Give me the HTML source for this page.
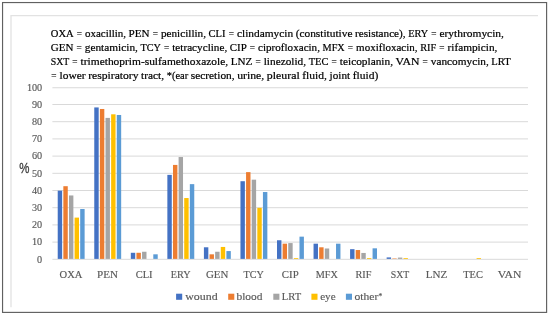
<!DOCTYPE html>
<html lang="en"><head><meta charset="utf-8"><title>Resistance chart</title>
<style>
html,body{margin:0;padding:0;background:#fff;}
body{width:550px;height:315px;overflow:hidden;}
svg{display:block;}
text{font-family:"Liberation Serif","DejaVu Serif",serif;}
.t{font-size:10.4px;fill:#000;stroke:#000;stroke-width:0.2px;}
.a{font-size:10.3px;fill:#595959;stroke:#595959;stroke-width:0.15px;}
</style></head><body>
<svg width="550" height="315" viewBox="0 0 550 315">
<rect x="0" y="0" width="550" height="315" fill="#fff"/>
<path d="M11 307.2V15.6H538" fill="none" stroke="#e2e2e2" stroke-width="1.3"/>
<rect x="2.55" y="2.55" width="544.05" height="309.85" fill="none" stroke="#606060" stroke-width="1.15"/>
<line x1="52.40" x2="528.00" y1="259.30" y2="259.30" stroke="#d9d9d9" stroke-width="1"/>
<line x1="52.40" x2="528.00" y1="242.10" y2="242.10" stroke="#d9d9d9" stroke-width="1"/>
<line x1="52.40" x2="528.00" y1="224.90" y2="224.90" stroke="#d9d9d9" stroke-width="1"/>
<line x1="52.40" x2="528.00" y1="207.70" y2="207.70" stroke="#d9d9d9" stroke-width="1"/>
<line x1="52.40" x2="528.00" y1="190.50" y2="190.50" stroke="#d9d9d9" stroke-width="1"/>
<line x1="52.40" x2="528.00" y1="173.30" y2="173.30" stroke="#d9d9d9" stroke-width="1"/>
<line x1="52.40" x2="528.00" y1="156.10" y2="156.10" stroke="#d9d9d9" stroke-width="1"/>
<line x1="52.40" x2="528.00" y1="138.90" y2="138.90" stroke="#d9d9d9" stroke-width="1"/>
<line x1="52.40" x2="528.00" y1="121.70" y2="121.70" stroke="#d9d9d9" stroke-width="1"/>
<line x1="52.40" x2="528.00" y1="104.50" y2="104.50" stroke="#d9d9d9" stroke-width="1"/>
<line x1="52.40" x2="528.00" y1="87.75" y2="87.75" stroke="#d9d9d9" stroke-width="1"/>
<rect x="57.72" y="190.66" width="4.42" height="68.24" fill="#4472C4"/>
<rect x="63.34" y="186.20" width="4.42" height="72.70" fill="#ED7D31"/>
<rect x="68.96" y="195.46" width="4.42" height="63.44" fill="#A5A5A5"/>
<rect x="74.58" y="217.60" width="4.42" height="41.30" fill="#FFC000"/>
<rect x="80.20" y="209.02" width="4.42" height="49.88" fill="#5B9BD5"/>
<rect x="94.27" y="107.43" width="4.42" height="151.47" fill="#4472C4"/>
<rect x="99.89" y="108.98" width="4.42" height="149.92" fill="#ED7D31"/>
<rect x="105.51" y="117.90" width="4.42" height="141.00" fill="#A5A5A5"/>
<rect x="111.13" y="114.30" width="4.42" height="144.60" fill="#FFC000"/>
<rect x="116.75" y="114.98" width="4.42" height="143.92" fill="#5B9BD5"/>
<rect x="130.82" y="252.78" width="4.42" height="6.12" fill="#4472C4"/>
<rect x="136.44" y="252.78" width="4.42" height="6.12" fill="#ED7D31"/>
<rect x="142.06" y="251.75" width="4.42" height="7.15" fill="#A5A5A5"/>
<rect x="153.30" y="254.32" width="4.42" height="4.58" fill="#5B9BD5"/>
<rect x="167.36" y="174.87" width="4.42" height="84.03" fill="#4472C4"/>
<rect x="172.98" y="164.92" width="4.42" height="93.98" fill="#ED7D31"/>
<rect x="178.60" y="157.03" width="4.42" height="101.87" fill="#A5A5A5"/>
<rect x="184.22" y="198.04" width="4.42" height="60.86" fill="#FFC000"/>
<rect x="189.84" y="184.14" width="4.42" height="74.76" fill="#5B9BD5"/>
<rect x="203.91" y="247.29" width="4.42" height="11.61" fill="#4472C4"/>
<rect x="209.53" y="254.32" width="4.42" height="4.58" fill="#ED7D31"/>
<rect x="215.15" y="251.75" width="4.42" height="7.15" fill="#A5A5A5"/>
<rect x="220.77" y="246.94" width="4.42" height="11.96" fill="#FFC000"/>
<rect x="226.39" y="251.06" width="4.42" height="7.84" fill="#5B9BD5"/>
<rect x="240.45" y="181.22" width="4.42" height="77.68" fill="#4472C4"/>
<rect x="246.07" y="172.13" width="4.42" height="86.77" fill="#ED7D31"/>
<rect x="251.69" y="179.68" width="4.42" height="79.22" fill="#A5A5A5"/>
<rect x="257.31" y="207.82" width="4.42" height="51.08" fill="#FFC000"/>
<rect x="262.93" y="192.03" width="4.42" height="66.87" fill="#5B9BD5"/>
<rect x="277.00" y="240.25" width="4.42" height="18.65" fill="#4472C4"/>
<rect x="282.62" y="243.68" width="4.42" height="15.22" fill="#ED7D31"/>
<rect x="288.24" y="243.08" width="4.42" height="15.82" fill="#A5A5A5"/>
<rect x="293.86" y="258.10" width="4.42" height="0.80" fill="#FFC000"/>
<rect x="299.48" y="236.65" width="4.42" height="22.25" fill="#5B9BD5"/>
<rect x="313.55" y="243.68" width="4.42" height="15.22" fill="#4472C4"/>
<rect x="319.17" y="247.29" width="4.42" height="11.61" fill="#ED7D31"/>
<rect x="324.79" y="248.49" width="4.42" height="10.41" fill="#A5A5A5"/>
<rect x="336.03" y="243.68" width="4.42" height="15.22" fill="#5B9BD5"/>
<rect x="350.09" y="249.18" width="4.42" height="9.72" fill="#4472C4"/>
<rect x="355.71" y="250.03" width="4.42" height="8.87" fill="#ED7D31"/>
<rect x="361.33" y="252.95" width="4.42" height="5.95" fill="#A5A5A5"/>
<rect x="366.95" y="258.10" width="4.42" height="0.80" fill="#FFC000"/>
<rect x="372.57" y="248.32" width="4.42" height="10.58" fill="#5B9BD5"/>
<rect x="386.64" y="257.41" width="4.42" height="1.49" fill="#4472C4"/>
<rect x="392.26" y="258.44" width="4.42" height="0.46" fill="#ED7D31"/>
<rect x="397.88" y="257.58" width="4.42" height="1.32" fill="#A5A5A5"/>
<rect x="403.50" y="258.10" width="4.42" height="0.80" fill="#FFC000"/>
<rect x="476.59" y="258.10" width="4.42" height="0.80" fill="#FFC000"/>
<text class="a" x="42.2" y="262.55" text-anchor="end" textLength="5.10" lengthAdjust="spacingAndGlyphs">0</text>
<text class="a" x="42.2" y="245.35" text-anchor="end" textLength="10.20" lengthAdjust="spacingAndGlyphs">10</text>
<text class="a" x="42.2" y="228.15" text-anchor="end" textLength="10.20" lengthAdjust="spacingAndGlyphs">20</text>
<text class="a" x="42.2" y="210.95" text-anchor="end" textLength="10.20" lengthAdjust="spacingAndGlyphs">30</text>
<text class="a" x="42.2" y="193.75" text-anchor="end" textLength="10.20" lengthAdjust="spacingAndGlyphs">40</text>
<text class="a" x="42.2" y="176.55" text-anchor="end" textLength="10.20" lengthAdjust="spacingAndGlyphs">50</text>
<text class="a" x="42.2" y="159.35" text-anchor="end" textLength="10.20" lengthAdjust="spacingAndGlyphs">60</text>
<text class="a" x="42.2" y="142.15" text-anchor="end" textLength="10.20" lengthAdjust="spacingAndGlyphs">70</text>
<text class="a" x="42.2" y="124.95" text-anchor="end" textLength="10.20" lengthAdjust="spacingAndGlyphs">80</text>
<text class="a" x="42.2" y="107.75" text-anchor="end" textLength="10.20" lengthAdjust="spacingAndGlyphs">90</text>
<text class="a" x="42.2" y="91.00" text-anchor="end" textLength="15.30" lengthAdjust="spacingAndGlyphs">100</text>
<text x="24.4" y="172.5" text-anchor="middle" style="font-family:'Liberation Sans',sans-serif;font-size:13.8px;fill:#404040;stroke:#404040;stroke-width:0.3px" textLength="10.2" lengthAdjust="spacingAndGlyphs">%</text>
<text class="a" x="71.02" y="277.5" text-anchor="middle" textLength="22.76" lengthAdjust="spacingAndGlyphs">OXA</text>
<text class="a" x="107.57" y="277.5" text-anchor="middle" textLength="20.87" lengthAdjust="spacingAndGlyphs">PEN</text>
<text class="a" x="144.12" y="277.5" text-anchor="middle" textLength="16.90" lengthAdjust="spacingAndGlyphs">CLI</text>
<text class="a" x="180.66" y="277.5" text-anchor="middle" textLength="19.85" lengthAdjust="spacingAndGlyphs">ERY</text>
<text class="a" x="217.21" y="277.5" text-anchor="middle" textLength="22.49" lengthAdjust="spacingAndGlyphs">GEN</text>
<text class="a" x="253.75" y="277.5" text-anchor="middle" textLength="20.29" lengthAdjust="spacingAndGlyphs">TCY</text>
<text class="a" x="290.30" y="277.5" text-anchor="middle" textLength="16.83" lengthAdjust="spacingAndGlyphs">CIP</text>
<text class="a" x="326.85" y="277.5" text-anchor="middle" textLength="22.12" lengthAdjust="spacingAndGlyphs">MFX</text>
<text class="a" x="363.39" y="277.5" text-anchor="middle" textLength="15.92" lengthAdjust="spacingAndGlyphs">RIF</text>
<text class="a" x="399.94" y="277.5" text-anchor="middle" textLength="18.41" lengthAdjust="spacingAndGlyphs">SXT</text>
<text class="a" x="436.48" y="277.5" text-anchor="middle" textLength="21.51" lengthAdjust="spacingAndGlyphs">LNZ</text>
<text class="a" x="473.03" y="277.5" text-anchor="middle" textLength="19.72" lengthAdjust="spacingAndGlyphs">TEC</text>
<text class="a" x="509.58" y="277.5" text-anchor="middle" textLength="23.78" lengthAdjust="spacingAndGlyphs">VAN</text>
<text class="t" x="50.75" y="36.90" textLength="22.89" lengthAdjust="spacingAndGlyphs">OXA</text>
<text class="t" x="76.71" y="36.90" textLength="5.22" lengthAdjust="spacingAndGlyphs">=</text>
<text class="t" x="84.99" y="36.90" textLength="41.06" lengthAdjust="spacingAndGlyphs">oxacillin,</text>
<text class="t" x="128.61" y="36.90" textLength="20.99" lengthAdjust="spacingAndGlyphs">PEN</text>
<text class="t" x="152.67" y="36.90" textLength="5.22" lengthAdjust="spacingAndGlyphs">=</text>
<text class="t" x="160.95" y="36.90" textLength="45.07" lengthAdjust="spacingAndGlyphs">penicillin,</text>
<text class="t" x="208.59" y="36.90" textLength="17.00" lengthAdjust="spacingAndGlyphs">CLI</text>
<text class="t" x="228.66" y="36.90" textLength="5.22" lengthAdjust="spacingAndGlyphs">=</text>
<text class="t" x="236.94" y="36.90" textLength="56.17" lengthAdjust="spacingAndGlyphs">clindamycin</text>
<text class="t" x="295.68" y="36.90" textLength="56.80" lengthAdjust="spacingAndGlyphs">(constitutive</text>
<text class="t" x="355.04" y="36.90" textLength="50.55" lengthAdjust="spacingAndGlyphs">resistance),</text>
<text class="t" x="408.16" y="36.90" textLength="19.97" lengthAdjust="spacingAndGlyphs">ERY</text>
<text class="t" x="431.19" y="36.90" textLength="5.22" lengthAdjust="spacingAndGlyphs">=</text>
<text class="t" x="439.47" y="36.90" textLength="64.48" lengthAdjust="spacingAndGlyphs">erythromycin,</text>
<text class="t" x="50.75" y="51.00" textLength="22.62" lengthAdjust="spacingAndGlyphs">GEN</text>
<text class="t" x="76.44" y="51.00" textLength="5.22" lengthAdjust="spacingAndGlyphs">=</text>
<text class="t" x="84.72" y="51.00" textLength="53.19" lengthAdjust="spacingAndGlyphs">gentamicin,</text>
<text class="t" x="140.47" y="51.00" textLength="20.41" lengthAdjust="spacingAndGlyphs">TCY</text>
<text class="t" x="163.95" y="51.00" textLength="5.22" lengthAdjust="spacingAndGlyphs">=</text>
<text class="t" x="172.23" y="51.00" textLength="55.02" lengthAdjust="spacingAndGlyphs">tetracycline,</text>
<text class="t" x="229.82" y="51.00" textLength="16.93" lengthAdjust="spacingAndGlyphs">CIP</text>
<text class="t" x="249.81" y="51.00" textLength="5.22" lengthAdjust="spacingAndGlyphs">=</text>
<text class="t" x="258.09" y="51.00" textLength="61.87" lengthAdjust="spacingAndGlyphs">ciprofloxacin,</text>
<text class="t" x="322.53" y="51.00" textLength="22.25" lengthAdjust="spacingAndGlyphs">MFX</text>
<text class="t" x="347.85" y="51.00" textLength="5.22" lengthAdjust="spacingAndGlyphs">=</text>
<text class="t" x="356.13" y="51.00" textLength="61.45" lengthAdjust="spacingAndGlyphs">moxifloxacin,</text>
<text class="t" x="420.14" y="51.00" textLength="16.02" lengthAdjust="spacingAndGlyphs">RIF</text>
<text class="t" x="439.22" y="51.00" textLength="5.22" lengthAdjust="spacingAndGlyphs">=</text>
<text class="t" x="447.50" y="51.00" textLength="49.87" lengthAdjust="spacingAndGlyphs">rifampicin,</text>
<text class="t" x="50.75" y="65.10" textLength="18.52" lengthAdjust="spacingAndGlyphs">SXT</text>
<text class="t" x="72.33" y="65.10" textLength="5.22" lengthAdjust="spacingAndGlyphs">=</text>
<text class="t" x="80.62" y="65.10" textLength="147.54" lengthAdjust="spacingAndGlyphs">trimethoprim-sulfamethoxazole,</text>
<text class="t" x="230.72" y="65.10" textLength="21.64" lengthAdjust="spacingAndGlyphs">LNZ</text>
<text class="t" x="255.42" y="65.10" textLength="5.22" lengthAdjust="spacingAndGlyphs">=</text>
<text class="t" x="263.71" y="65.10" textLength="42.39" lengthAdjust="spacingAndGlyphs">linezolid,</text>
<text class="t" x="308.67" y="65.10" textLength="19.83" lengthAdjust="spacingAndGlyphs">TEC</text>
<text class="t" x="331.56" y="65.10" textLength="5.22" lengthAdjust="spacingAndGlyphs">=</text>
<text class="t" x="339.85" y="65.10" textLength="53.18" lengthAdjust="spacingAndGlyphs">teicoplanin,</text>
<text class="t" x="395.59" y="65.10" textLength="23.92" lengthAdjust="spacingAndGlyphs">VAN</text>
<text class="t" x="422.57" y="65.10" textLength="5.22" lengthAdjust="spacingAndGlyphs">=</text>
<text class="t" x="430.85" y="65.10" textLength="57.90" lengthAdjust="spacingAndGlyphs">vancomycin,</text>
<text class="t" x="491.31" y="65.10" textLength="19.41" lengthAdjust="spacingAndGlyphs">LRT</text>
<text class="t" x="51.25" y="79.20" textLength="5.22" lengthAdjust="spacingAndGlyphs">=</text>
<text class="t" x="59.53" y="79.20" textLength="26.11" lengthAdjust="spacingAndGlyphs">lower</text>
<text class="t" x="88.21" y="79.20" textLength="50.36" lengthAdjust="spacingAndGlyphs">respiratory</text>
<text class="t" x="141.13" y="79.20" textLength="22.99" lengthAdjust="spacingAndGlyphs">tract,</text>
<text class="t" x="166.69" y="79.20" textLength="21.50" lengthAdjust="spacingAndGlyphs">*(ear</text>
<text class="t" x="190.77" y="79.20" textLength="43.83" lengthAdjust="spacingAndGlyphs">secretion,</text>
<text class="t" x="237.20" y="79.20" textLength="27.03" lengthAdjust="spacingAndGlyphs">urine,</text>
<text class="t" x="266.83" y="79.20" textLength="32.85" lengthAdjust="spacingAndGlyphs">pleural</text>
<text class="t" x="302.28" y="79.20" textLength="24.73" lengthAdjust="spacingAndGlyphs">fluid,</text>
<text class="t" x="329.61" y="79.20" textLength="20.57" lengthAdjust="spacingAndGlyphs">joint</text>
<text class="t" x="352.79" y="79.20" textLength="25.60" lengthAdjust="spacingAndGlyphs">fluid)</text>
<rect x="176.1" y="293.7" width="6.1" height="6.1" fill="#4472C4"/>
<text class="a" x="185.20" y="299.6" textLength="32.40" lengthAdjust="spacingAndGlyphs">wound</text>
<rect x="228.2" y="293.7" width="6.1" height="6.1" fill="#ED7D31"/>
<text class="a" x="236.50" y="299.6" textLength="25.98" lengthAdjust="spacingAndGlyphs">blood</text>
<rect x="273.3" y="293.7" width="6.1" height="6.1" fill="#A5A5A5"/>
<text class="a" x="281.80" y="299.6" textLength="19.30" lengthAdjust="spacingAndGlyphs">LRT</text>
<rect x="311.4" y="293.7" width="6.1" height="6.1" fill="#FFC000"/>
<text class="a" x="320.20" y="299.6" textLength="15.44" lengthAdjust="spacingAndGlyphs">eye</text>
<rect x="345.9" y="293.7" width="6.1" height="6.1" fill="#5B9BD5"/>
<text class="a" x="354.50" y="299.6" textLength="23.75" lengthAdjust="spacingAndGlyphs">other</text><text class="a" x="378.45" y="298.5" style="font-size:7.6px">*</text>
</svg>
</body></html>
